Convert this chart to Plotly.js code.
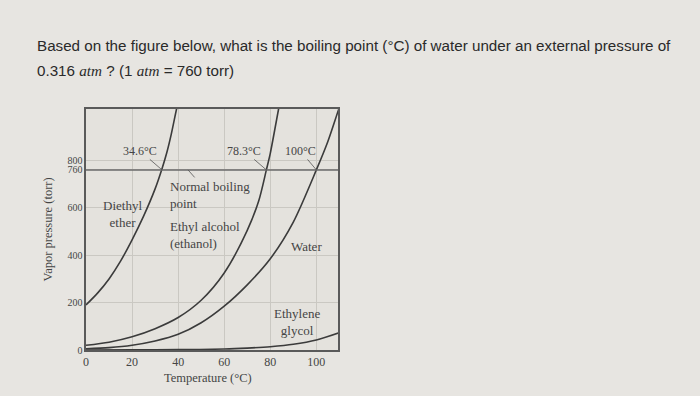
<!DOCTYPE html>
<html>
<head>
<meta charset="utf-8">
<script src="https://cdn.plot.ly/plotly-3.0.1.min.js"></script>
<style>html,body{margin:0;padding:0;background:#e7e5e1;}#chart{width:700px;height:396px;}</style>
</head>
<body>
<div id="chart"></div>
<script>
// ---- data ----
const etherT   = [0, 5, 10, 15, 20, 25, 30, 33, 35, 37, 39.3, 41];
const etherP   = [190, 240, 300, 375, 465, 565, 680, 765, 830, 910, 1017, 1090];
const ethanolT = [0, 10, 20, 30, 40, 50, 60, 70, 75, 78.3, 80, 83.6, 85];
const ethanolP = [20, 33, 56, 90, 137, 210, 325, 505, 630, 760, 830, 1017, 1090];
const waterT   = [0, 10, 20, 30, 40, 50, 60, 70, 80, 90, 100, 105, 109.5, 112];
const waterP   = [5, 10, 20, 38, 66, 115, 185, 275, 385, 540, 760, 880, 1010, 1080];
const glycolT  = [0, 20, 40, 60, 70, 80, 90, 100, 110];
const glycolP  = [0, 0.5, 1.5, 4, 8, 14, 24, 42, 73];
const xTickVals = [0, 20, 40, 60, 80, 100];
const yTickVals = [0, 200, 400, 600, 760, 800];
const normalPressure = 760;
const boilingPoints = [33, 78.3, 100];          // where curves cross 760 torr in the drawing
const boilingLabels = ['34.6°C', '78.3°C', '100°C'];

const serif = 'Liberation Serif, Times New Roman, serif';
const inkC = '#454545';
const curveC = '#3b3b3b';

const lineStyle = {color: curveC, width: 1.6, shape: 'spline', smoothing: 0.8};
const traces = [
  {x: etherT, y: etherP, name: 'Diethyl ether'},
  {x: ethanolT, y: ethanolP, name: 'Ethyl alcohol'},
  {x: waterT, y: waterP, name: 'Water'},
  {x: glycolT, y: glycolP, name: 'Ethylene glycol'}
].map(t => Object.assign(t, {type: 'scatter', mode: 'lines', line: lineStyle, hoverinfo: 'skip'}));

const ann = [];
// question text
ann.push({xref: 'paper', yref: 'paper', x: (35 - 86) / 252, y: 1.263, xanchor: 'left', yanchor: 'middle', showarrow: false,
  text: 'Based on the figure below, what is the boiling point (°C) of water under an external pressure of',
  font: {family: 'Liberation Sans, Arial, sans-serif', size: 15.2, color: '#2a2a2a'}});
ann.push({xref: 'paper', yref: 'paper', x: (35 - 86) / 252, y: 1.16, xanchor: 'left', yanchor: 'middle', showarrow: false,
  text: '0.316 <span style="font-family:Liberation Serif;font-style:italic">atm</span> ? (1 <span style="font-family:Liberation Serif;font-style:italic">atm</span> = 760 torr)',
  font: {family: 'Liberation Sans, Arial, sans-serif', size: 15.2, color: '#2a2a2a'}});
// boiling-point labels with leader lines
const offs = [[-22, -19], [-22, -19], [-16, -19]];
boilingPoints.forEach((bp, i) => {
  ann.push({x: bp, y: normalPressure, xref: 'x', yref: 'y', text: boilingLabels[i], showarrow: true,
    arrowhead: 0, arrowwidth: 0.8, arrowcolor: '#555', ax: offs[i][0], ay: offs[i][1],
    font: {family: serif, size: 12, color: inkC}});
});
ann.push({x: 44.3, y: normalPressure, xref: 'x', yref: 'y', text: 'Normal boiling<br>point', align: 'left',
  showarrow: true, arrowhead: 0, arrowwidth: 0.8, arrowcolor: '#555', ax: 22, ay: 25,
  font: {family: serif, size: 13, color: inkC}});
const lbl = (px, py, text, align) => ({xref: 'paper', yref: 'paper', x: (px - 86) / 252, y: (350 - py) / 241,
  xanchor: align === 'left' ? 'left' : 'center', yanchor: 'middle', align: align || 'center', showarrow: false, text: text,
  font: {family: serif, size: 13, color: inkC}});
ann.push(lbl(122, 214, 'Diethyl<br>ether'));
ann.push(lbl(168, 235, 'Ethyl alcohol<br>(ethanol)', 'left'));
ann.push(lbl(306, 246, 'Water'));
ann.push(lbl(297, 322, 'Ethylene<br>glycol'));
// axis titles
ann.push({xref: 'paper', yref: 'paper', x: (47 - 86) / 252, y: 0.5, xanchor: 'center', yanchor: 'middle', showarrow: false,
  textangle: -90, text: 'Vapor pressure (torr)', font: {family: serif, size: 12.5, color: inkC}});
ann.push({xref: 'paper', yref: 'paper', x: (208 - 86) / 252, y: (350 - 378) / 241, xanchor: 'center', yanchor: 'middle', showarrow: false,
  text: 'Temperature (°C)', font: {family: serif, size: 12.5, color: inkC}});

const layout = {
  width: 700, height: 396,
  margin: {l: 86, r: 362, t: 109, b: 46, pad: 0},
  paper_bgcolor: '#e7e5e1', plot_bgcolor: '#e4e2dd',
  showlegend: false,
  xaxis: {range: [0, 109.4], tickvals: xTickVals, ticks: '', showgrid: true, gridcolor: '#cac8c2', gridwidth: 1,
    zeroline: false, showline: true, mirror: true, linecolor: '#5a5a5a', linewidth: 1.6,
    tickfont: {family: serif, size: 12, color: inkC}, fixedrange: true},
  yaxis: {range: [0, 1017], tickvals: yTickVals, ticks: '', showgrid: true, gridcolor: '#cac8c2', gridwidth: 1,
    zeroline: false, showline: true, mirror: true, linecolor: '#5a5a5a', linewidth: 1.6,
    tickfont: {family: serif, size: 10, color: inkC}, fixedrange: true},
  shapes: [{type: 'line', xref: 'paper', yref: 'y', x0: 0, x1: 1, y0: normalPressure, y1: normalPressure,
    line: {color: '#6a6a6a', width: 1.5}}],
  annotations: ann
};
Plotly.newPlot('chart', traces, layout, {staticPlot: true, displayModeBar: false});
</script>
</body>
</html>
